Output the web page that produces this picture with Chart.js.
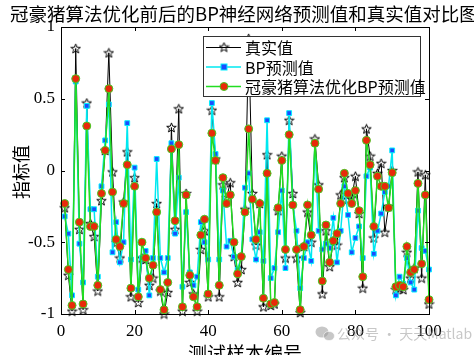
<!DOCTYPE html>
<html><head><meta charset="utf-8">
<script src="https://cdn.jsdelivr.net/npm/chart.js@4"></script>
<style>html,body{margin:0;padding:0;background:#fff}#c{display:block}</style>
</head><body>
<canvas id="c" width="474" height="355"></canvas>
<script>
const sampleIds = Array.from({length:100},(_,i)=>i+1);
const trueValues = [-0.26,-0.73,-0.98,0.85,-0.41,-0.97,0.47,-0.37,-0.46,-0.84,
-0.21,0.14,0.82,-0.01,-0.50,-0.61,-0.22,0.13,-0.88,-0.05,
-0.92,-0.61,-0.62,-0.80,-0.75,-0.23,-0.84,-1.0,-0.85,0.30,
-0.41,0.43,-0.98,-0.16,-0.78,-0.86,-0.98,-0.55,-0.42,-0.88,
0.42,0.08,-0.88,-0.10,-0.19,-0.085,-0.60,-0.78,-0.69,-0.27,
0.92,-0.16,-0.52,-0.23,-0.95,0.11,-0.94,-0.93,-0.28,0.10,
-0.61,0.35,-0.16,-0.61,-0.99,-0.53,-0.29,-0.50,0.22,-0.10,
-0.86,-0.42,-0.67,-0.49,-0.52,-0.17,-0.05,-0.20,-0.19,-0.04,
-0.30,-0.82,0.29,0.10,-0.47,-0.02,0.05,-0.43,-0.25,0.00,
-0.83,-0.82,-0.83,-0.57,-0.75,-0.68,-0.01,-0.75,-0.03,-0.93];
const bpValues = [-0.32,-0.44,-0.87,0.62,-0.51,-0.78,0.45,-0.27,-0.27,-0.74,
-0.11,0.21,0.46,-0.57,-0.36,-0.64,-0.50,0.33,-0.62,0.02,
-0.83,-0.61,-0.56,-0.87,-0.61,0.08,-0.61,-0.71,-0.61,0.19,
-0.44,-0.05,-0.81,-0.29,-0.71,-0.80,-0.74,-0.36,-0.50,-0.62,
0.47,0.115,-0.62,-0.14,-0.53,-0.49,-0.60,-0.69,-0.60,-0.12,
-0.02,-0.48,-0.62,-0.43,-0.63,0.35,-0.75,-0.68,-0.43,-0.14,
-0.68,0.40,-0.24,-0.42,-0.82,-0.61,-0.50,-0.63,0.19,-0.42,
-0.55,-0.51,-0.54,-0.33,-0.64,-0.42,-0.11,-0.31,-0.57,-0.47,
-0.39,-0.61,-0.04,0.02,-0.58,-0.42,-0.30,-0.15,-0.11,0.14,
-0.87,-0.74,-0.79,-0.61,-0.78,-0.83,-0.28,-0.54,-0.56,-0.69];
const optValues = [-0.23,-0.69,-0.94,0.64,-0.36,-0.93,0.31,-0.39,-0.39,-0.80,
-0.16,0.14,0.57,-0.15,-0.48,-0.53,-0.23,0.04,-0.82,-0.11,
-0.88,-0.50,-0.61,-0.75,-0.66,-0.29,-0.83,-0.97,-0.78,0.15,
-0.35,0.18,-0.95,-0.17,-0.73,-0.88,-0.95,-0.45,-0.34,-0.86,
0.26,0.07,-0.80,-0.05,-0.23,-0.17,-0.50,-0.72,-0.60,-0.29,
0.29,-0.20,-0.48,-0.23,-0.89,-0.02,-0.93,-0.92,-0.26,0.07,
-0.55,0.25,-0.24,-0.55,-0.97,-0.53,-0.24,-0.45,0.19,-0.13,
-0.77,-0.38,-0.64,-0.49,-0.44,-0.23,-0.02,-0.16,-0.23,-0.14,
-0.28,-0.74,0.21,0.04,-0.39,-0.04,-0.11,-0.11,-0.26,-0.015,
-0.81,-0.80,-0.81,-0.53,-0.71,-0.69,-0.09,-0.65,-0.17,-0.90];
const xTicks = [0,20,40,60,80,100];
const yTicks = [-1,-0.5,0,0.5,1];
const seriesNames = ['真实值','BP预测值','冠豪猪算法优化BP预测值'];
const titleText = '冠豪猪算法优化前后的BP神经网络预测值和真实值对比图';
const xLabel = '测试样本编号';
const yLabel = '指标值';
const watermark = '公众号 · 天天Matlab';

const CJK = '"Noto Sans CJK SC", "Noto Sans", sans-serif';
const SERIF = '"Liberation Serif", "DejaVu Serif", serif';

function makeStar(){
  const c = document.createElement('canvas'); c.width = 11; c.height = 11;
  const g = c.getContext('2d');
  g.strokeStyle = '#000'; g.lineWidth = 1;
  g.beginPath();
  for (let k=0;k<10;k++){
    const r = k%2===0 ? 5 : 2.1;
    const a = -Math.PI/2 + k*Math.PI/5;
    const px = 5.5 + r*Math.cos(a), py = 5.9 + r*Math.sin(a);
    k===0 ? g.moveTo(px,py) : g.lineTo(px,py);
  }
  g.closePath(); g.stroke();
  return c;
}
const starImg = makeStar();

const toPts = arr => arr.map((v,i)=>({x:sampleIds[i], y:v}));

function drawMarker(ctx, type, x, y){
  ctx.save();
  if (type===0){ ctx.drawImage(starImg, x-5.5, y-5.9); }
  else if (type===1){ ctx.fillStyle='#1a4cff'; ctx.strokeStyle='#00f0ff'; ctx.lineWidth=1; ctx.fillRect(x-3,y-3,6,6); ctx.strokeRect(x-3,y-3,6,6); }
  else { ctx.beginPath(); ctx.arc(x,y,4,0,Math.PI*2); ctx.fillStyle='#e82a0a'; ctx.fill(); ctx.strokeStyle='#44cc22'; ctx.lineWidth=1; ctx.stroke(); }
  ctx.restore();
}

const decor = {
  id:'decor',
  afterDraw(chart){
    const ctx = chart.ctx, a = chart.chartArea;
    const xs = chart.scales.x, ys = chart.scales.y;
    ctx.save();
    ctx.strokeStyle='#000'; ctx.lineWidth=1;
    ctx.strokeRect(Math.round(a.left)+0.5, Math.round(a.top)+0.5, Math.round(a.right-a.left), Math.round(a.bottom-a.top));
    ctx.beginPath();
    xTicks.forEach(v=>{ const px=Math.round(xs.getPixelForValue(v))+0.5;
      ctx.moveTo(px,a.bottom); ctx.lineTo(px,a.bottom-4);
      ctx.moveTo(px,a.top); ctx.lineTo(px,a.top+4); });
    yTicks.forEach(v=>{ const py=Math.round(ys.getPixelForValue(v))+0.5;
      ctx.moveTo(a.left,py); ctx.lineTo(a.left+4,py);
      ctx.moveTo(a.right,py); ctx.lineTo(a.right-4,py); });
    ctx.stroke();
    ctx.fillStyle='#000'; ctx.font='18.5px '+CJK; ctx.textBaseline='alphabetic'; ctx.textAlign='left';
    ctx.fillText(titleText, 10, 21);
    ctx.save(); ctx.translate(21,172); ctx.rotate(-Math.PI/2);
    ctx.font='18px '+CJK; ctx.textAlign='center'; ctx.textBaseline='middle';
    ctx.fillText(yLabel,0,0); ctx.restore();
    ctx.font='19px '+CJK; ctx.textAlign='center'; ctx.textBaseline='top';
    ctx.fillText(xLabel,(a.left+a.right)/2,344);
    const lx=203, ly=36, lw=217, lh=60;
    ctx.fillStyle='#fff'; ctx.fillRect(lx,ly,lw,lh);
    ctx.strokeStyle='#333'; ctx.lineWidth=1; ctx.strokeRect(lx+0.5,ly+0.5,lw,lh);
    const rows=[47.5,67,86.5], cols=['#000','#00e8f0','#22dd22'], widths=[1,1.5,1.5];
    rows.forEach((ry,k)=>{
      ctx.beginPath(); ctx.strokeStyle=cols[k]; ctx.lineWidth=widths[k];
      ctx.moveTo(206,ry); ctx.lineTo(241,ry); ctx.stroke();
      drawMarker(ctx,k,224,ry);
      ctx.fillStyle='#000'; ctx.font='16px '+CJK; ctx.textAlign='left'; ctx.textBaseline='middle';
      ctx.fillText(seriesNames[k],245,ry+0.5);
    });
    ctx.globalAlpha=0.55; ctx.fillStyle='#999'; ctx.strokeStyle='#fff';
    ctx.beginPath(); ctx.ellipse(322,332,6.5,5.5,0,0,Math.PI*2); ctx.fill();
    ctx.beginPath(); ctx.ellipse(329,336,5.5,4.6,0,0,Math.PI*2); ctx.fill(); ctx.lineWidth=1; ctx.stroke();
    ctx.font='14px '+CJK; ctx.textAlign='left'; ctx.textBaseline='middle';
    ctx.fillText(watermark,337,334);
    ctx.restore();
  }
};

new Chart(document.getElementById('c'),{
  type:'line',
  data:{datasets:[
    {label:seriesNames[0], data:toPts(trueValues), borderColor:'#000', borderWidth:1,
     pointStyle:starImg, pointRadius:5, order:3, clip:false},
    {label:seriesNames[1], data:toPts(bpValues), borderColor:'#00e8f0', borderWidth:1.5,
     pointStyle:'rect', pointRadius:3.4, pointBackgroundColor:'#1a4cff', pointBorderColor:'#00f0ff', pointBorderWidth:1, order:2, clip:false},
    {label:seriesNames[2], data:toPts(optValues), borderColor:'#22dd22', borderWidth:1.5,
     pointStyle:'circle', pointRadius:4, pointBackgroundColor:'#e82a0a', pointBorderColor:'#44cc22', pointBorderWidth:1, order:1, clip:false}
  ]},
  options:{
    responsive:false, animation:false, devicePixelRatio:1,
    layout:{padding:{top:27,right:45,left:0,bottom:0}},
    elements:{line:{tension:0}},
    plugins:{legend:{display:false}, tooltip:{enabled:false}, title:{display:false}},
    scales:{
      x:{type:'linear', min:0, max:100,
         afterFit(s){s.height=41;},
         afterBuildTicks(s){s.ticks=xTicks.map(v=>({value:v}));},
         ticks:{font:{family:SERIF,size:17}, color:'#000', padding:7, maxRotation:0},
         grid:{display:true, drawOnChartArea:false, drawTicks:false},
         border:{display:true,color:'#000'}},
      y:{type:'linear', min:-1, max:1,
         afterFit(s){s.width=61;},
         afterBuildTicks(s){s.ticks=yTicks.map(v=>({value:v}));},
         ticks:{font:{family:SERIF,size:17}, color:'#000', padding:6, callback:v=>String(v)},
         grid:{display:true, drawOnChartArea:false, drawTicks:false},
         border:{display:true,color:'#000'}}
    }
  },
  plugins:[decor]
});
</script>
</body></html>
